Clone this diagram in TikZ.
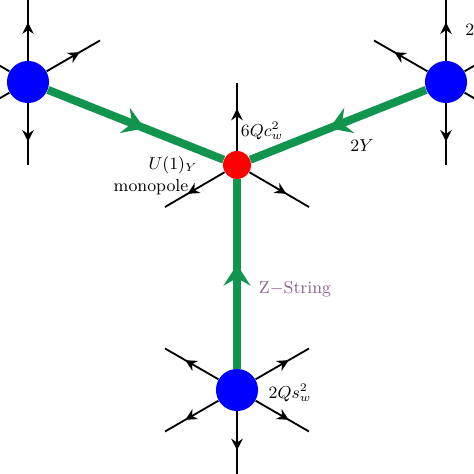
\documentclass[tikz,border=0pt]{standalone}
\usetikzlibrary{arrows.meta,decorations.markings}
\definecolor{stringgreen}{RGB}{16,148,78}
\definecolor{stringlabel}{RGB}{145,95,145}
\tikzset{
    leg/.style={line width=0.95pt, postaction={decorate}, decoration={markings, mark=at position 0.62 with {\arrow{Stealth[length=6pt,width=6pt,inset=2pt]}}}},
    zstring/.style={line width=4.2pt, stringgreen, postaction={decorate}, decoration={markings, mark=at position 0.55 with {\arrow{Stealth[length=11pt,width=14pt,inset=4pt]}}}},
    monopole/.style={circle, fill=red, inner sep=0pt, minimum size=0.512cm},
    endpoint/.style={circle, fill=blue, inner sep=0pt, minimum size=0.77cm},
    charge/.style={font=\small},
}
\begin{document}
\begin{tikzpicture}[x=0.0183cm, y=0.0183cm]
        \useasboundingbox (0, 0) rectangle (474, 474);
        \clip (0, 0) rectangle (474, 474);
        \node [monopole] (m) at (237, 309) {};
        \node [endpoint] (l) at (28, 392) {};
        \node [endpoint] (r) at (446, 392) {};
        \node [endpoint] (b) at (237, 84) {};
        % free ends of the legs
        \coordinate (m-up) at (237, 391);
        \coordinate (m-dl) at (165, 267);
        \coordinate (m-dr) at (309, 267);
        \coordinate (l-up) at (28, 475);
        \coordinate (l-ur) at (100, 433.5);
        \coordinate (l-ul) at (-44, 433.5);
        \coordinate (l-dl) at (-44, 350.5);
        \coordinate (l-dn) at (28, 309);
        \coordinate (r-up) at (446, 475);
        \coordinate (r-ul) at (374, 433.5);
        \coordinate (r-ur) at (518, 433.5);
        \coordinate (r-dr) at (518, 350.5);
        \coordinate (r-dn) at (446, 309);
        \coordinate (b-ul) at (165, 125.5);
        \coordinate (b-ur) at (309, 125.5);
        \coordinate (b-dl) at (165, 42.5);
        \coordinate (b-dr) at (309, 42.5);
        \coordinate (b-dn) at (237, 0);
        \foreach \e in {up, dl, dr} \draw [leg] (m) -- (m-\e);
        \foreach \e in {up, ur, ul, dl, dn} \draw [leg] (l) -- (l-\e);
        \foreach \e in {up, ul, ur, dr, dn} \draw [leg] (r) -- (r-\e);
        \foreach \e in {ul, ur, dl, dr, dn} \draw [leg] (b) -- (b-\e);
        % the strings
        \draw [zstring] (l) -- (m);
        \draw [zstring] (r) -- (m);
        \draw [zstring] (b) -- (m) node [charge, pos=0.42, right=6pt, text=stringlabel] {Z$-$String};
        \node [charge] (qc) at (262, 343) {$6Qc_w^2$};
        \node [charge] (u1) at (173, 309) {$U(1)_Y$};
        \node [charge] (mono) at (151, 287) {monopole};
        \node [charge] (twoy) at (362, 328) {$2Y$};
        \node [charge] (qs) at (290, 81) {$2Qs_w^2$};
        \node [charge, anchor=west, inner sep=0pt] (cut) at (465, 444) {$2$};
    \end{tikzpicture}
\end{document}
